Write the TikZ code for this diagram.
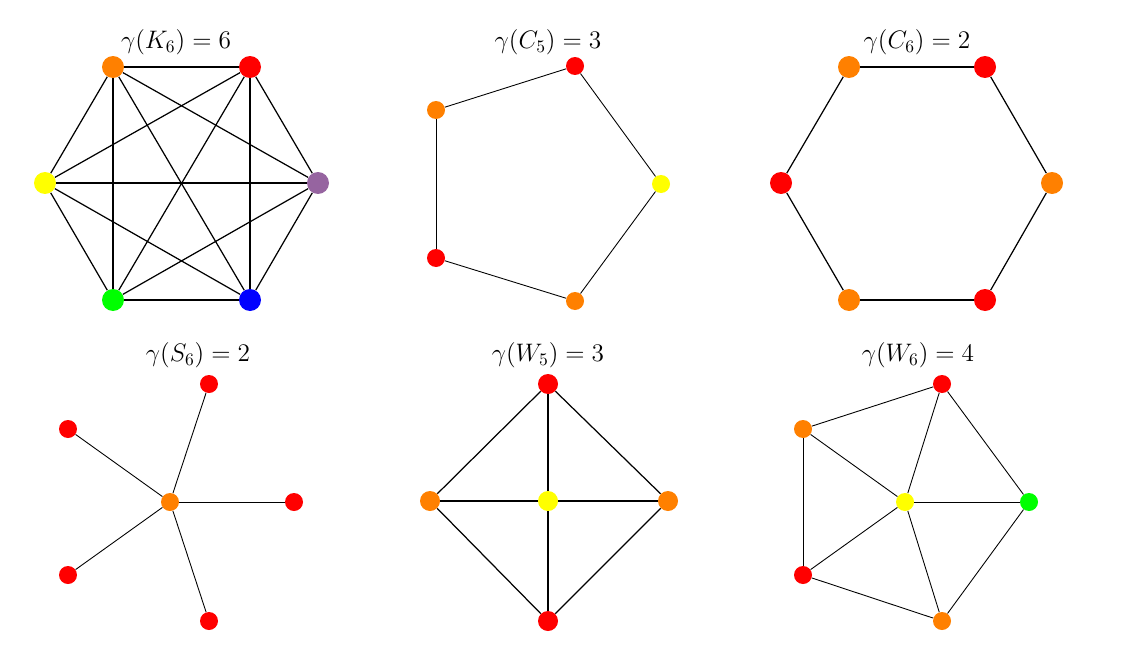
\documentclass[tikz,border=0pt]{standalone}
\begin{document}
\begin{tikzpicture}[x=0.02cm,y=-0.02cm,
 v/.style={circle,inner sep=0pt,minimum size=#1*0.04cm},
 v/.default=10,
 e/.style={line width=0.7pt},
 t/.style={font=\fontsize{14}{16}\selectfont}]
\definecolor{cO}{RGB}{255,128,0}\definecolor{cR}{RGB}{255,0,0}
\definecolor{cY}{RGB}{255,255,0}\definecolor{cP}{RGB}{150,100,160}
\definecolor{cB}{RGB}{0,0,255}\definecolor{cG}{RGB}{0,255,0}
\useasboundingbox (0,0) rectangle (1121,666);
% K6
\node[t] (tk) at (176,42) {$\gamma(K_6)=6$};
\node[v=11,fill=cO] (k1) at (113,67) {};
\node[v=11,fill=cR] (k2) at (250,67) {};
\node[v=11,fill=cP] (k3) at (318,183) {};
\node[v=11,fill=cB] (k4) at (250,300) {};
\node[v=11,fill=cG] (k5) at (113,300) {};
\node[v=11,fill=cY] (k6) at (45,183) {};
\foreach \a/\b in {k1/k2,k1/k3,k1/k4,k1/k5,k1/k6,k2/k3,k2/k4,k2/k5,k2/k6,k3/k4,k3/k5,k3/k6,k4/k5,k4/k6,k5/k6}
 \draw[e] (\a)--(\b);
% C5
\node[t] (tc5) at (548,42) {$\gamma(C_5)=3$};
\node[v=9,fill=cR] (c1) at (575,66) {};
\node[v=9,fill=cY] (c2) at (661,184) {};
\node[v=9,fill=cO] (c3) at (575,301) {};
\node[v=9,fill=cR] (c4) at (436,258) {};
\node[v=9,fill=cO] (c5) at (436,110) {};
\foreach \a/\b in {c1/c2,c2/c3,c3/c4,c4/c5,c5/c1} \draw[line width=0.5pt] (\a)--(\b);
% C6
\node[t] (tc6) at (917,42) {$\gamma(C_6)=2$};
\node[v=11,fill=cO] (d1) at (849,67) {};
\node[v=11,fill=cR] (d2) at (985,67) {};
\node[v=11,fill=cO] (d3) at (1052,183) {};
\node[v=11,fill=cR] (d4) at (985,300) {};
\node[v=11,fill=cO] (d5) at (849,300) {};
\node[v=11,fill=cR] (d6) at (781,183) {};
\foreach \a/\b in {d1/d2,d2/d3,d3/d4,d4/d5,d5/d6,d6/d1} \draw[e] (\a)--(\b);
% S6
\node[t] (ts) at (198,355) {$\gamma(S_6)=2$};
\node[v=9,fill=cO] (s0) at (170,502) {};
\node[v=9,fill=cR] (s1) at (209,384) {};
\node[v=9,fill=cR] (s2) at (294,502) {};
\node[v=9,fill=cR] (s3) at (209,621) {};
\node[v=9,fill=cR] (s4) at (68,575) {};
\node[v=9,fill=cR] (s5) at (68,429) {};
\foreach \b in {s1,s2,s3,s4,s5} \draw[line width=0.5pt] (s0)--(\b);
% W5
\node[t] (tw5) at (548,355) {$\gamma(W_5)=3$};
\node[v=10,fill=cY] (w0) at (548,501) {};
\node[v=10,fill=cR] (w1) at (548,384) {};
\node[v=10,fill=cO] (w2) at (668,501) {};
\node[v=10,fill=cR] (w3) at (548,621) {};
\node[v=10,fill=cO] (w4) at (430,501) {};
\foreach \a/\b in {w1/w2,w2/w3,w3/w4,w4/w1,w0/w1,w0/w2,w0/w3,w0/w4} \draw[e] (\a)--(\b);
% W6
\node[t] (tw6) at (918,355) {$\gamma(W_6)=4$};
\node[v=9,fill=cY] (u0) at (905,502) {};
\node[v=9,fill=cR] (u1) at (942,384) {};
\node[v=9,fill=cG] (u2) at (1029,502) {};
\node[v=9,fill=cO] (u3) at (942,621) {};
\node[v=9,fill=cR] (u4) at (803,575) {};
\node[v=9,fill=cO] (u5) at (803,429) {};
\foreach \a/\b in {u1/u2,u2/u3,u3/u4,u4/u5,u5/u1,u0/u1,u0/u2,u0/u3,u0/u4,u0/u5} \draw[line width=0.5pt] (\a)--(\b);
\end{tikzpicture}
\end{document}
